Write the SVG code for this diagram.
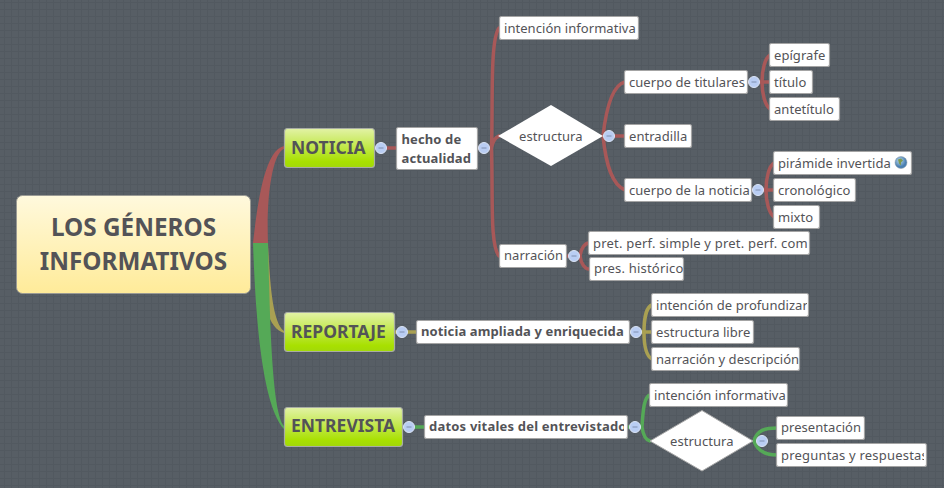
<svg xmlns="http://www.w3.org/2000/svg" width="944" height="488" viewBox="0 0 944 488">
<style>
text{font-family:"Noto Sans","Open Sans",sans-serif;fill:#535357;font-size:13px;letter-spacing:.05px}
.b{font-weight:700;letter-spacing:.12px}
.w{letter-spacing:.2px}
.t{font-size:17.500px;font-weight:700;letter-spacing:0}
.r{font-size:24.300px;font-weight:700;letter-spacing:0;text-anchor:middle}
.n{fill:#fff;stroke:#a4a4a4;stroke-width:1.200}
.g{fill:url(#green);stroke:#a8aca4;stroke-width:1.200}
.e{fill:none;stroke-width:3.500;stroke-linecap:round}
.red{stroke:#a85858}.ol{stroke:#a9a052}.gr{stroke:#55a957}
.c{fill:#b9cdf3;stroke:#dbe5f6;stroke-width:1}
.m{stroke:#7f8fb0;stroke-width:1}
</style>
<defs>
<linearGradient id="green" x1="0" y1="0" x2="0" y2="1"><stop offset="0" stop-color="#e2f2a6"/><stop offset=".85" stop-color="#a8e000"/><stop offset="1" stop-color="#a2d80a"/></linearGradient>
<linearGradient id="yel" x1="0" y1="0" x2="0" y2="1"><stop offset="0" stop-color="#fff9dd"/><stop offset="1" stop-color="#ffeb99"/></linearGradient>
<pattern id="bg" width="7" height="7" patternUnits="userSpaceOnUse"><rect width="7" height="7" fill="#575e65"/><path d="M0 2.500H7M4.500 0V7" stroke="#525960" stroke-width="1"/></pattern>
<radialGradient id="globe" cx=".4" cy=".35"><stop offset="0" stop-color="#bcdcf0"/><stop offset="1" stop-color="#4a7fb0"/></radialGradient>
<clipPath id="c1"><rect x="629" y="70" width="116" height="24"/></clipPath>
<clipPath id="c2"><rect x="429" y="415" width="195" height="24"/></clipPath>
<clipPath id="c3"><rect x="781" y="443" width="143" height="24"/></clipPath>
<clipPath id="c4"><rect x="656" y="293" width="151" height="24"/></clipPath>
</defs>
<rect width="944" height="488" fill="url(#bg)"/>
<g id="connectors">
<path d="M253 243C258 200 265 150 284 146V149C274 152 266 190 268 243Z" fill="#a85858"/>
<path d="M268 245C270 280 272 322 284 331V333C268 328 260 300 258 245Z" fill="#a9a052"/>
<path d="M253 243H268C270 320 272 412 284 426V429C260 402 255 300 253 243Z" fill="#55a957"/>
<path class="e red" d="M375 148H397M477 148H491.500M491.500 148C493 140 496 137 499 136M491.500 148C493 100 490 40 499 28M491.500 148C493 200 490 245 499 256"/>
<path class="e red" d="M567 256H580M580 256C581 248 585 243 589 243M580 256C581 264 585 269 589 269"/>
<path class="e red" d="M603 136H624M603 136C606 110 612 85 625 82M603 136C606 165 612 185 625 190"/>
<path class="e red" d="M747 82H770M762 82C762 70 765 58 770 55M762 82C762 94 765 105 770 109"/>
<path class="e red" d="M751 190H774M766 190C766 178 769 166 774 163M766 190C766 202 769 213 774 217"/>
<path class="e ol" d="M395 332H417M630 332H652M644 332C644 320 646 307 652 305M644 332C644 345 646 356 652 359"/>
<path class="e gr" d="M403 427H425M628 427H642M642 427C643 410 644 397 650 395M642 427C643 434 645 440 650 441"/>
<path class="e gr" d="M754 441C757 430 765 428 777 428M754 441C757 450 765 455 777 455"/>
</g>
<g id="root"><rect x="16.500" y="195.500" width="234" height="98" rx="6" fill="url(#yel)" stroke="#9a9a94"/><text class="r" x="133.500" y="235.500">LOS GÉNEROS</text><text class="r" x="133.500" y="269.500">INFORMATIVOS</text></g>
<g id="noticia"><rect class="g" x="284.500" y="128.500" width="90" height="39" rx="3"/><text class="t" x="291" y="153.500">NOTICIA</text></g>
<g id="reportaje"><rect class="g" x="284.500" y="312.500" width="110" height="39" rx="3"/><text class="t" x="291" y="337.500">REPORTAJE</text></g>
<g id="entrevista"><rect class="g" x="284.500" y="407.500" width="118" height="39" rx="3"/><text class="t" x="291" y="432">ENTREVISTA</text></g>
<g id="hecho"><rect class="n" x="396.500" y="127.500" width="81" height="42" rx="2"/><text class="b" x="401.500" y="144">hecho de</text><text class="b" x="401.500" y="163">actualidad</text></g>
<g id="int1"><rect class="n" x="499.500" y="16.500" width="139" height="23" rx="2"/><text x="504" y="33">intención informativa</text></g>
<g id="est1"><path d="M498 136L551 105L603 136L551 166Z" fill="#fff"/><text x="519" y="141">estructura</text></g>
<g id="narr"><rect class="n" x="499.500" y="244.500" width="67" height="23" rx="2"/><text x="504" y="260">narración</text></g>
<g id="cuerpo1"><rect class="n" x="624.500" y="70.500" width="123" height="23" rx="2"/><text x="629" y="87" clip-path="url(#c1)">cuerpo de titulares</text></g>
<g id="entradilla"><rect class="n" x="624.500" y="124.500" width="67" height="23" rx="2"/><text x="629" y="141">entradilla</text></g>
<g id="cuerpo2"><rect class="n" x="624.500" y="178.500" width="127" height="23" rx="2"/><text x="629" y="195">cuerpo de la noticia</text></g>
<g id="epigrafe"><rect class="n" x="769.500" y="43.500" width="60" height="23" rx="2"/><text x="774" y="60">epígrafe</text></g>
<g id="titulo"><rect class="n" x="769.500" y="70.500" width="43" height="23" rx="2"/><text x="774" y="87">título</text></g>
<g id="antetitulo"><rect class="n" x="769.500" y="97.500" width="70" height="23" rx="2"/><text x="774" y="114">antetítulo</text></g>
<g id="piramide"><rect class="n" x="773.500" y="151.500" width="138" height="23" rx="2"/><text x="778" y="168">pirámide invertida</text><circle cx="901" cy="162.500" r="6" fill="url(#globe)" stroke="#8a9aa8" stroke-width=".5"/><path d="M898 159.500l3-1 2 2-2 2v3l-2-2z" fill="#7f9a50"/></g>
<g id="crono"><rect class="n" x="773.500" y="178.500" width="82" height="23" rx="2"/><text x="778" y="195">cronológico</text></g>
<g id="mixto"><rect class="n" x="773.500" y="205.500" width="46" height="23" rx="2"/><text x="778" y="222">mixto</text></g>
<g id="pret"><rect class="n" x="588.500" y="231.500" width="221" height="23" rx="2"/><text class="w" x="593" y="248">pret. perf. simple y pret. perf. com</text></g>
<g id="pres"><rect class="n" x="589.500" y="257.500" width="94" height="23" rx="2"/><text class="w" x="594" y="273">pres. histórico</text></g>
<g id="ampliada"><rect class="n" x="416.500" y="320.500" width="213" height="23" rx="2"/><text class="b" x="421" y="336">noticia ampliada y enriquecida</text></g>
<g id="prof"><rect class="n" x="651.500" y="293.500" width="157" height="23" rx="2"/><text x="656" y="310" clip-path="url(#c4)">intención de profundizar</text></g>
<g id="libre"><rect class="n" x="651.500" y="320.500" width="102" height="23" rx="2"/><text x="656" y="337">estructura libre</text></g>
<g id="narrdesc"><rect class="n" x="651.500" y="347.500" width="148" height="23" rx="2"/><text x="656" y="364">narración y descripción</text></g>
<g id="datos"><rect class="n" x="424.500" y="415.500" width="203" height="23" rx="2"/><text class="b" x="429" y="431" style="letter-spacing:.2px" clip-path="url(#c2)">datos vitales del entrevistado</text></g>
<g id="int2"><rect class="n" x="649.500" y="383.500" width="138" height="23" rx="2"/><text x="654" y="400">intención informativa</text></g>
<g id="est2"><path d="M650 441L702 410.500L753 441L702 471Z" fill="#fff" stroke="#a9a9a9"/><text x="670" y="446">estructura</text></g>
<g id="presentacion"><rect class="n" x="776.500" y="416.500" width="88" height="23" rx="2"/><text x="781" y="432">presentación</text></g>
<g id="preguntas"><rect class="n" x="776.500" y="443.500" width="150" height="23" rx="2"/><text class="w" x="781" y="460" clip-path="url(#c3)">preguntas y respuestas</text></g>
<g id="toggles">
<g><circle class="c" cx="381" cy="148" r="5.500"/><path class="m" d="M378.500 148h5"/></g>
<g><circle class="c" cx="484" cy="148" r="5.500"/><path class="m" d="M481.500 148h5"/></g>
<g><circle class="c" cx="574" cy="256" r="5.500"/><path class="m" d="M571.500 256h5"/></g>
<g><circle class="c" cx="609" cy="136" r="5.500"/><path class="m" d="M606.500 136h5"/></g>
<g><circle class="c" cx="754" cy="82" r="5.500"/><path class="m" d="M751.500 82h5"/></g>
<g><circle class="c" cx="758" cy="190" r="5.500"/><path class="m" d="M755.500 190h5"/></g>
<g><circle class="c" cx="402" cy="332" r="5.500"/><path class="m" d="M399.500 332h5"/></g>
<g><circle class="c" cx="636" cy="332" r="5.500"/><path class="m" d="M633.500 332h5"/></g>
<g><circle class="c" cx="409" cy="427" r="5.500"/><path class="m" d="M406.500 427h5"/></g>
<g><circle class="c" cx="635" cy="427" r="5.500"/><path class="m" d="M632.500 427h5"/></g>
<g><circle class="c" cx="762" cy="441" r="5.500"/><path class="m" d="M759.500 441h5"/></g>
</g>
</svg>
